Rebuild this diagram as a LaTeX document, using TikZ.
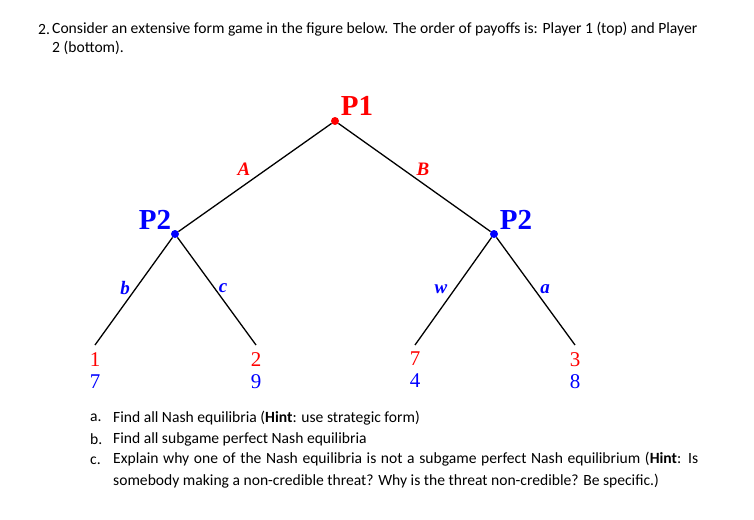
\documentclass[tikz,border=0pt]{standalone}
\usepackage{fontspec}
\setmainfont{Carlito}
\newfontfamily\tms{Liberation Serif}
\begin{document}
\begin{tikzpicture}[x=1pt,y=-1pt,
  txt/.style={anchor=west,inner sep=0,font=\fontsize{15.6}{21.5}\selectfont},
  dotr/.style={circle,fill=red,inner sep=0,minimum size=8},
  dotb/.style={circle,fill=blue,inner sep=0,minimum size=8},
  edge/.style={line width=1.3pt},
  pl/.style={font=\tms\bfseries\fontsize{29}{29}\selectfont},
  act/.style={font=\tms\bfseries\itshape\fontsize{19}{19}\selectfont},
  pay/.style={font=\tms\fontsize{21}{22}\selectfont,align=center,inner sep=0,anchor=north}]
\useasboundingbox (0,0) rectangle (754,519);
\node[txt] (n2) at (38,29) {2.};
\node[txt] (l1) at (52,29) {Consider an extensive form game in the figure below. The order of payoffs is: Player 1 (top) and Player};
\node[txt] (l2) at (52,48) {2 (bottom).};
\node[dotr] (p1) at (335,121) {};
\node[dotb] (l) at (175,234) {};
\node[dotb] (r) at (494,234) {};
\coordinate (t1) at (95,345);
\coordinate (t2) at (256,345);
\coordinate (t3) at (415,345);
\coordinate (t4) at (575,345);
\draw[edge] (p1) -- (l); \draw[edge] (p1) -- (r);
\draw[edge] (l) -- (t1); \draw[edge] (l) -- (t2);
\draw[edge] (r) -- (t3); \draw[edge] (r) -- (t4);
\node[pl,text=red] (P1) at (357,106) {P1};
\node[pl,text=blue] (P2l) at (155,220) {P2};
\node[pl,text=blue] (P2r) at (516,220) {P2};
\node[act,text=red] (A) at (244,169) {A};
\node[act,text=red] (B) at (423,169) {B};
\node[act,text=blue] (b) at (125,288) {b};
\node[act,text=blue] (c) at (223,288) {c};
\node[act,text=blue] (w) at (441,289) {w};
\node[act,text=blue] (a) at (545,289) {a};
\node[pay] (v1) at (95,352) {\textcolor{red}{1}\\\textcolor{blue}{7}};
\node[pay] (v2) at (256,352) {\textcolor{red}{2}\\\textcolor{blue}{9}};
\node[pay] (v3) at (415,352) {\textcolor{red}{7}\\\textcolor{blue}{4}};
\node[pay] (v4) at (575,352) {\textcolor{red}{3}\\\textcolor{blue}{8}};
\node[txt] (ia) at (90,418) {a.};
\node[txt] (ta) at (113,418) {Find all Nash equilibria (\textbf{Hint}: use strategic form)};
\node[txt] (ib) at (90,439) {b.};
\node[txt] (tb) at (113,439) {Find all subgame perfect Nash equilibria};
\node[txt] (ic) at (90,461) {c.};
\node[txt,anchor=north west,text width=585,align=justify] (tc) at (113,452) {Explain why one of the Nash equilibria is not a subgame perfect Nash equilibrium (\textbf{Hint}: Is somebody making a non-credible threat? Why is the threat non-credible? Be specific.)};
\end{tikzpicture}
\end{document}
